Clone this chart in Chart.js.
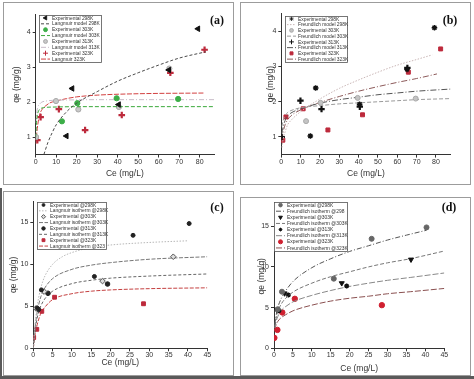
<!DOCTYPE html>
<html>
<head>
<meta charset="utf-8">
<script src="https://cdn.jsdelivr.net/npm/chart.js@4.4.1/dist/chart.umd.min.js"></script>
<style>
html, body { margin: 0; padding: 0; background: #fff; }
body { width: 474px; height: 379px; position: relative; overflow: hidden; }
.panel { position: absolute; border: 1px solid #9c9c9c; background: #fff; }
.panel canvas { position: absolute; left: 0; top: 0; }
.edge { position: absolute; background: #5a5a5a; }
</style>
</head>
<body>
<div class="edge" style="left:0;top:188px;width:2px;height:191px"></div>
<div class="edge" style="left:0;top:376px;width:474px;height:3px"></div>
<div class="panel" style="left:3px;top:2px;width:229px;height:181px"><canvas id="ca" width="229" height="181"></canvas></div>
<div class="panel" style="left:240px;top:2px;width:229px;height:181px"><canvas id="cb" width="229" height="181"></canvas></div>
<div class="panel" style="left:3px;top:191px;width:229px;height:183px"><canvas id="cc" width="229" height="183"></canvas></div>
<div class="panel" style="left:240px;top:197px;width:229px;height:177px"><canvas id="cd" width="229" height="177"></canvas></div>
<script>
// tick labels
const ticksABx = [0, 10, 20, 30, 40, 50, 60, 70, 80];
const ticksABy = [1, 2, 3, 4];
const ticksCDx = [0, 5, 10, 15, 20, 25, 30, 35, 40, 45];
const ticksCDy = [0, 5, 10, 15];

// experimental points shared by (a) and (b)
const ce298 = [15, 17.8, 40.5, 65, 79.2];
const qe298 = [1.03, 2.39, 1.93, 2.92, 4.1];
const ce303 = [12.8, 20.3, 39.5, 69.5];
const qe303 = [1.45, 1.97, 2.11, 2.09];
const ce313 = [0.2, 9.9, 20.8, 40.6, 65.2];
const qe313 = [1.0, 2.03, 1.79, 1.86, 2.96];
const ce323 = [0.8, 2.4, 11.3, 24.1, 42, 65.7, 82.4];
const qe323 = [0.91, 1.57, 1.8, 1.2, 1.63, 2.84, 3.5];

// (a) Langmuir curves
const langA298x = [4, 6, 8, 10, 15, 20, 30, 40, 50, 60, 70, 83];
const langA298y = [0.5, 0.85, 1.12, 1.35, 1.72, 1.97, 2.3, 2.6, 2.84, 3.06, 3.26, 3.44];
const langA303x = [0, 0.3, 0.7, 1.2, 2, 3, 5, 10, 20, 40, 87];
const langA303y = [1.0, 1.35, 1.6, 1.72, 1.8, 1.83, 1.85, 1.86, 1.87, 1.87, 1.87];
const langA313x = [0, 0.5, 1, 2, 3, 5, 8, 15, 30, 87];
const langA313y = [1.4, 1.7, 1.85, 1.95, 2.0, 2.03, 2.05, 2.06, 2.07, 2.07];
const langA323x = [0, 0.5, 1, 2, 3, 5, 7, 10, 15, 20, 30, 50, 82];
const langA323y = [0.8, 1.1, 1.35, 1.65, 1.78, 1.9, 1.98, 2.03, 2.1, 2.15, 2.2, 2.24, 2.26];

// (b) Freundlich curves
const frB298x = [0.3, 1, 2, 3.3, 5, 10, 20, 30, 40, 50, 60, 70, 78];
const frB298y = [0.7, 0.95, 1.15, 1.35, 1.47, 1.72, 2.08, 2.38, 2.62, 2.84, 3.04, 3.2, 3.33];
const frB303x = [0.3, 1, 2, 3.3, 5, 10, 20, 30, 40, 50, 60, 70, 87.5];
const frB303y = [1.3, 1.48, 1.6, 1.7, 1.75, 1.83, 1.89, 1.94, 1.97, 2.0, 2.03, 2.06, 2.09];
const frB313x = [0.3, 1, 2, 3.3, 5, 10, 20, 30, 40, 50, 60, 70, 87.5];
const frB313y = [1.1, 1.3, 1.47, 1.6, 1.68, 1.8, 1.96, 2.06, 2.13, 2.2, 2.25, 2.3, 2.36];
const frB323x = [0.3, 1, 2, 3.3, 5, 10, 20, 30, 40, 50, 60, 70, 80.5];
const frB323y = [0.9, 1.15, 1.35, 1.49, 1.6, 1.77, 1.98, 2.15, 2.3, 2.43, 2.55, 2.66, 2.79];

// experimental points shared by (c) and (d)
const ceC298 = [1.0, 2.1, 15.8, 25.8, 40.3];
const qeC298 = [4.8, 6.95, 8.55, 13.45, 14.85];
const ceC303 = [0.7, 2.8, 17.9, 36.2];
const qeC303 = [4.75, 6.75, 8.0, 10.9];
const ceC313 = [1.3, 3.8, 19.2];
const qeC313 = [4.62, 6.55, 7.65];
const ceC323 = [0.1, 0.9, 2.2, 5.5, 28.5];
const qeC323 = [1.28, 2.26, 4.4, 6.08, 5.3];

// (c) Langmuir curves
const langC298x = [0, 0.3, 0.6, 1, 1.5, 2, 3, 5, 7.5, 10, 15, 20, 30, 40];
const langC298y = [0, 2.0, 3.5, 5.0, 6.3, 7.3, 8.6, 10.0, 10.9, 11.4, 12.0, 12.3, 12.6, 12.8];
const langCx = [0, 0.3, 0.6, 1, 1.5, 2, 3, 5, 10, 15, 20, 30, 45];
const langC303y = [0, 1.7, 3.0, 4.3, 5.4, 6.2, 7.2, 8.3, 9.4, 9.9, 10.2, 10.6, 10.9];
const langC313y = [0, 1.4, 2.5, 3.6, 4.5, 5.1, 5.9, 6.8, 7.7, 8.1, 8.35, 8.6, 8.85];
const langC323y = [0, 1.1, 2.0, 2.8, 3.6, 4.2, 4.9, 5.8, 6.5, 6.8, 6.95, 7.1, 7.2];

// (d) Freundlich curves
const frD298x = [0.2, 0.5, 1, 2, 3, 5, 10, 15, 20, 25, 30, 35, 40.3];
const frD298y = [2.9, 3.9, 5.0, 6.2, 7.0, 8.2, 9.9, 11.0, 11.9, 12.6, 13.3, 13.9, 14.5];
const frDx = [0.2, 0.5, 1, 2, 3, 5, 10, 15, 20, 25, 30, 36, 45];
const frD303y = [2.7, 3.6, 4.5, 5.5, 6.1, 6.9, 8.0, 8.8, 9.4, 10.0, 10.5, 11.0, 11.95];
const frD313y = [2.5, 3.2, 3.9, 4.7, 5.1, 5.7, 6.5, 7.1, 7.6, 8.0, 8.35, 8.7, 9.25];
const frD323y = [2.2, 2.8, 3.3, 3.8, 4.1, 4.6, 5.3, 5.8, 6.15, 6.4, 6.7, 6.95, 7.35];

const pts = (xs, ys) => xs.map((x, i) => ({ x: x, y: ys[i] }));

function exp(label, xs, ys, st) {
  return {
    label: label, data: pts(xs, ys), showLine: false,
    pointStyle: st.shape, pointRadius: st.r, pointRotation: st.rot || 0,
    pointBackgroundColor: st.fill, pointBorderColor: st.line || st.fill,
    pointBorderWidth: st.bw || 1
  };
}
function model(label, xs, ys, color, dash) {
  return {
    label: label, data: pts(xs, ys), showLine: true, pointRadius: 0,
    borderColor: color, borderWidth: 1, borderDash: dash,
    cubicInterpolationMode: 'monotone', fill: false
  };
}

const red = '#bd2a3c';

const paper = {
  id: 'paper',
  afterDraw(chart, args, o) {
    const ctx = chart.ctx;
    const ox = o.origin[0], oy = o.origin[1];
    const lg = o.legend;
    const lx = lg.x - ox, ly = lg.y - oy;
    ctx.save();
    ctx.fillStyle = '#fff';
    ctx.fillRect(lx, ly, lg.w, lg.h);
    ctx.strokeStyle = '#555';
    ctx.lineWidth = 0.8;
    ctx.strokeRect(lx + 0.5, ly + 0.5, lg.w, lg.h);
    const sets = chart.data.datasets;
    const rowH = lg.h / sets.length;
    sets.forEach((ds, i) => {
      const cy = ly + rowH * (i + 0.5);
      if (ds.showLine) {
        ctx.strokeStyle = ds.borderColor;
        ctx.lineWidth = 1;
        ctx.setLineDash(ds.borderDash || []);
        ctx.beginPath();
        ctx.moveTo(lx + 2, cy);
        ctx.lineTo(lx + 11, cy);
        ctx.stroke();
        ctx.setLineDash([]);
      } else {
        ctx.fillStyle = ds.pointBackgroundColor;
        ctx.strokeStyle = ds.pointBorderColor;
        const opts = { pointStyle: ds.pointStyle, radius: ds.pointRadius * 0.75, rotation: ds.pointRotation, borderWidth: ds.pointBorderWidth };
        if (Chart.helpers && Chart.helpers.drawPoint) {
          Chart.helpers.drawPoint(ctx, opts, lx + 6.5, cy);
        } else {
          ctx.beginPath(); ctx.arc(lx + 6.5, cy, opts.radius, 0, Math.PI * 2); ctx.fill();
        }
      }
      ctx.fillStyle = '#333';
      ctx.font = o.font;
      ctx.textBaseline = 'middle';
      ctx.textAlign = 'left';
      ctx.fillText(ds.label, lx + 13, cy + 0.3);
    });
    ctx.fillStyle = '#111';
    ctx.font = 'bold 12px "Liberation Serif", serif';
    ctx.textAlign = 'center';
    ctx.fillText(o.tag, o.tagAt[0] - ox, o.tagAt[1] - oy);
    ctx.restore();
  }
};

function fixedTicks(values) {
  return function (s) {
    s.ticks = values.map(v => ({ value: v }));
  };
}

function makePanel(p) {
  const c = p.content; // absolute content box of the canvas
  const a = p.area;    // absolute plot area
  const tickFont = { family: '"Liberation Sans", Arial, sans-serif', size: 7 };
  const titleFont = { family: '"Liberation Sans", Arial, sans-serif', size: 8.5 };
  new Chart(document.getElementById(p.id), {
    type: 'scatter',
    data: { datasets: p.datasets },
    options: {
      responsive: false, animation: false, events: [],
      layout: { padding: { left: 0, top: a.t - c.t, right: c.r - a.r, bottom: 0 } },
      plugins: {
        legend: { display: false }, tooltip: { enabled: false },
        paper: { origin: [c.l, c.t], legend: p.legend, font: '4.9px "Liberation Sans", Arial, sans-serif', tag: p.tag, tagAt: p.tagAt }
      },
      scales: {
        x: {
          type: 'linear', min: p.x[0], max: p.x[1],
          ticks: { font: tickFont, color: '#333', padding: 0, maxRotation: 0, autoSkip: false },
          afterBuildTicks: fixedTicks(p.xTicks),
          afterFit: s => { s.height = c.b - a.b; },
          grid: { drawOnChartArea: false, tickLength: 3, color: '#333' },
          border: { color: '#333' },
          title: { display: true, text: 'Ce (mg/L)', font: titleFont, color: '#333', padding: { top: 0, bottom: p.xTitlePad } }
        },
        y: {
          type: 'linear', min: p.y[0], max: p.y[1],
          ticks: { font: tickFont, color: '#333', padding: 2, autoSkip: false },
          afterBuildTicks: fixedTicks(p.yTicks),
          afterFit: s => { s.width = a.l - c.l; },
          grid: { drawOnChartArea: false, tickLength: 3, color: '#333' },
          border: { color: '#333' },
          title: { display: true, text: 'qe (mg/g)', font: titleFont, color: '#333', padding: { top: p.yTitlePad, bottom: 0 } }
        }
      }
    },
    plugins: [paper]
  });
}

makePanel({
  id: 'ca', content: { l: 4, t: 3, r: 233, b: 184 },
  area: { l: 35.7, r: 214, t: 14.8, b: 154.5 },
  x: [0, 87], y: [0.5, 4.5], xTicks: ticksABx, yTicks: ticksABy, xTitlePad: 5, yTitlePad: 7.6,
  legend: { x: 39, y: 15, w: 62, h: 47 }, tag: '(a)', tagAt: [217, 21],
  datasets: [
    exp('Experimental 298K', ce298, qe298, { shape: 'triangle', r: 3.2, rot: -90, fill: '#111' }),
    model('Langmuir model 298K', langA298x, langA298y, '#4a4a4a', [3, 2]),
    exp('Experimental 303K', ce303, qe303, { shape: 'circle', r: 2.6, fill: '#3cae48' }),
    model('Langmuir model 303K', langA303x, langA303y, '#3aa83a', [4, 2]),
    exp('Experimental 313K', ce313, qe313, { shape: 'circle', r: 2.6, fill: '#c8c8c8', line: '#a8a8a8' }),
    model('Langmuir model 313K', langA313x, langA313y, '#c8bcc8', [5, 2, 1, 2]),
    exp('Experimental 323K', ce323, qe323, { shape: 'cross', r: 3.3, fill: red, bw: 2.2 }),
    model('Langmuir 323K', langA323x, langA323y, '#d24040', [5, 1.5])
  ]
});

makePanel({
  id: 'cb', content: { l: 241, t: 3, r: 470, b: 184 },
  area: { l: 281.3, r: 450.5, t: 13.7, b: 154.6 },
  x: [0, 87.5], y: [0.5, 4.5], xTicks: ticksABx, yTicks: ticksABy, xTitlePad: 5, yTitlePad: 25,
  legend: { x: 285, y: 16, w: 62, h: 46 }, tag: '(b)', tagAt: [450, 21],
  datasets: [
    exp('Experimental 298K', ce298, qe298, { shape: 'star', r: 2.8, fill: '#111', bw: 1.4 }),
    model('Freundlich model 298K', frB298x, frB298y, '#c9b6b6', [1.5, 1.5]),
    exp('Experimental 303K', ce303, qe303, { shape: 'circle', r: 2.5, fill: '#c4c4c4', line: '#aaa' }),
    model('Freundlich model 303K', frB303x, frB303y, '#9a9a9a', [4, 2]),
    exp('Experimental 313K', ce313, qe313, { shape: 'cross', r: 3.2, fill: '#111', bw: 2.2 }),
    model('Freundlich model 313K', frB313x, frB313y, '#555', [6, 2, 1, 2]),
    exp('Experimental 323K', ce323, qe323, { shape: 'rect', r: 2.8, fill: red }),
    model('Freundlich model 323K', frB323x, frB323y, '#8c5a5a', [6, 2, 1, 2])
  ]
});

makePanel({
  id: 'cc', content: { l: 4, t: 192, r: 233, b: 375 },
  area: { l: 33.3, r: 207.3, t: 201.3, b: 348.3 },
  x: [0, 45], y: [0, 17.5], xTicks: ticksCDx, yTicks: ticksCDy, xTitlePad: 7.5, yTitlePad: 4.2,
  legend: { x: 37, y: 202, w: 69, h: 47 }, tag: '(c)', tagAt: [217, 208],
  datasets: [
    exp('Experimental @298K', ceC298, qeC298, { shape: 'circle', r: 2, fill: '#222' }),
    model('Langmuir isotherm @298K', langC298x, langC298y, '#b8b8b8', [1.5, 1.5]),
    exp('Experimental @303K', ceC303, qeC303, { shape: 'rectRot', r: 2.8, fill: '#ddd', line: '#555' }),
    model('Langmuir isotherm @303K', langCx, langC303y, '#777', [4, 1.5]),
    exp('Experimental @313K', ceC313, qeC313, { shape: 'circle', r: 2.3, fill: '#222' }),
    model('Langmuir isotherm @313K', langCx, langC313y, '#666', [3, 2]),
    exp('Experimental @323K', ceC323, qeC323, { shape: 'rect', r: 2.7, fill: red }),
    model('Langmuir isotherm @323', langCx, langC323y, '#c44040', [4, 1.5])
  ]
});

makePanel({
  id: 'cd', content: { l: 241, t: 198, r: 470, b: 375 },
  area: { l: 274, r: 444.3, t: 201.9, b: 348.3 },
  x: [0, 45], y: [0, 17.7], xTicks: ticksCDx, yTicks: ticksCDy, xTitlePad: 1.5, yTitlePad: 16,
  legend: { x: 274, y: 202, w: 73, h: 49 }, tag: '(d)', tagAt: [449, 208],
  datasets: [
    exp('Experimental @298K', ceC298, qeC298, { shape: 'circle', r: 2.5, fill: '#666' }),
    model('Freundlich isotherm @298', frD298x, frD298y, '#555', [5, 2, 1, 2]),
    exp('Experimental @303K', ceC303, qeC303, { shape: 'triangle', r: 2.9, rot: 180, fill: '#111' }),
    model('Freundlich isotherm @303K', frDx, frD303y, '#777', [4, 2]),
    exp('Experimental @313K', ceC313, qeC313, { shape: 'star', r: 2.5, fill: '#111', bw: 1.4 }),
    model('Freundlich isotherm @313K', frDx, frD313y, '#888', [6, 2]),
    exp('Experimental @323K', ceC323, qeC323, { shape: 'circle', r: 2.7, fill: '#d02030' }),
    model('Freundlich isotherm @323K', frDx, frD323y, '#8a5050', [6, 2])
  ]
});
</script>
</body>
</html>
